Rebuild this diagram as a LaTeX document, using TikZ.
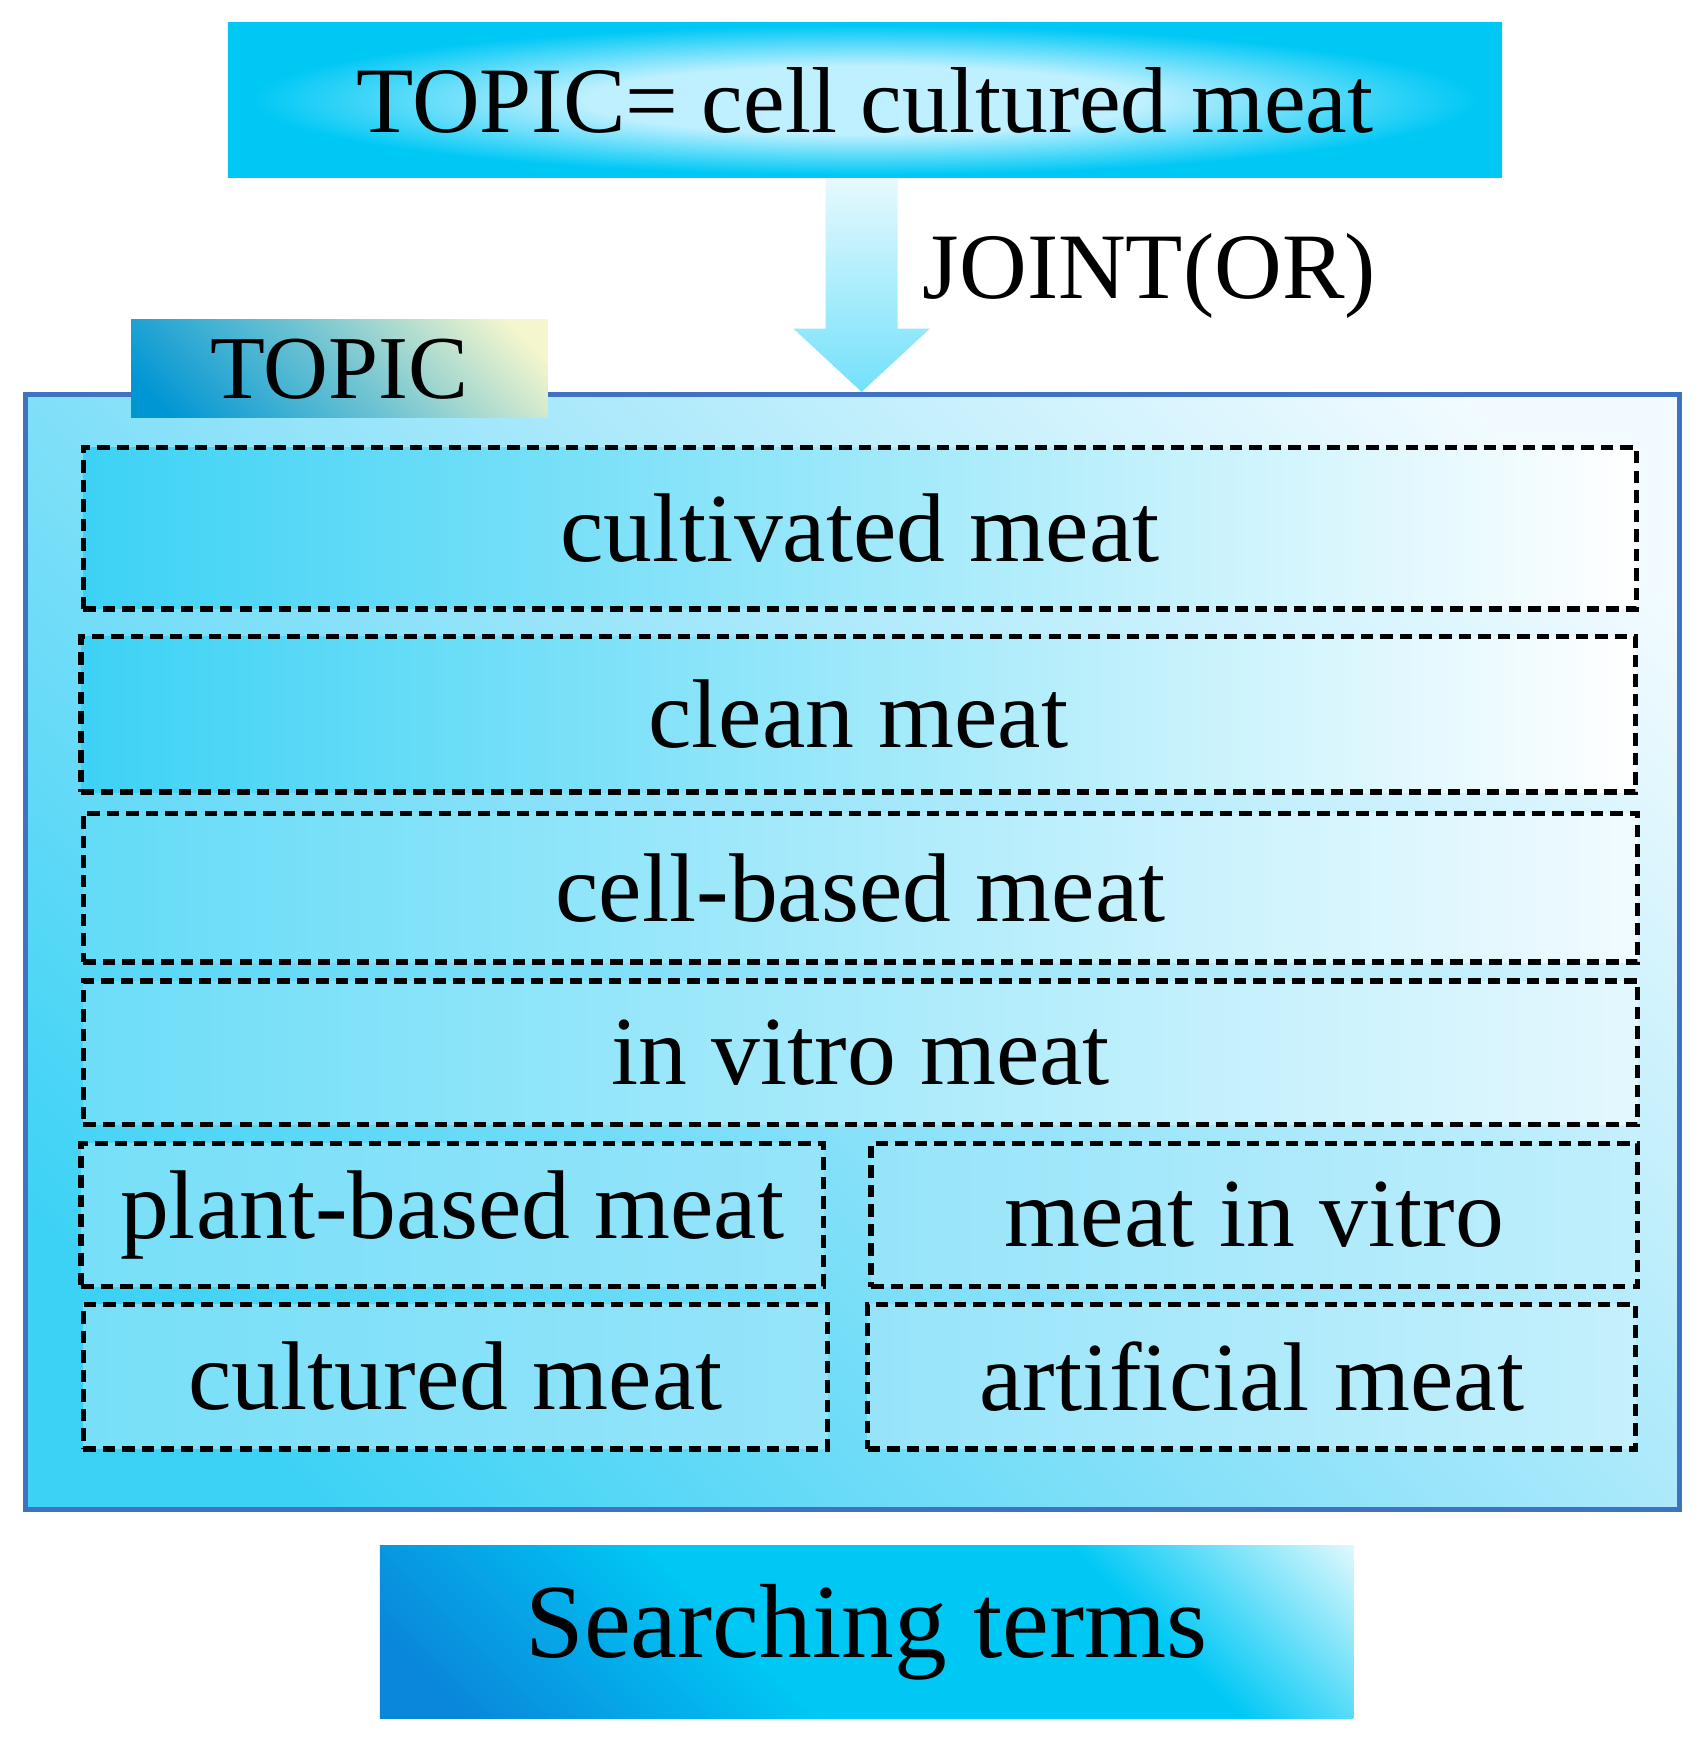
\documentclass[tikz,border=0pt]{standalone}
\usepackage{fontspec}
\setmainfont{Liberation Serif}
\usepackage{tikz}
\usetikzlibrary{calc}
\definecolor{qcyan}{RGB}{0,200,245}
\definecolor{qlight}{RGB}{190,240,255}
\definecolor{qedge}{RGB}{64,114,196}
\definecolor{qdeep}{RGB}{10,135,218}
\definecolor{fcyan}{RGB}{60,210,245}
\definecolor{fmid}{RGB}{150,228,250}
\definecolor{fwhite}{RGB}{242,251,255}
\definecolor{lblue}{RGB}{0,150,212}
\definecolor{lmid}{RGB}{110,195,210}
\definecolor{lyellow}{RGB}{245,246,205}
\pgfdeclareradialshading{glowq}{\pgfpoint{0bp}{0bp}}{color(0bp)=(qlight); color(11bp)=(qlight); color(24bp)=(qcyan); color(50bp)=(qcyan)}
\pgfdeclareverticalshading{termsfade}{100bp}{color(0bp)=(qdeep); color(20bp)=(qdeep); color(42bp)=(qcyan); color(68bp)=(qcyan); color(88bp)=(white); color(100bp)=(white)}
\pgfdeclareverticalshading{framefade}{100bp}{color(0bp)=(fcyan); color(22bp)=(fcyan); color(50bp)=(fmid); color(80bp)=(fwhite); color(100bp)=(fwhite)}
\pgfdeclareverticalshading{labelfade}{100bp}{color(0bp)=(lblue); color(20bp)=(lblue); color(50bp)=(lmid); color(80bp)=(lyellow); color(100bp)=(lyellow)}

\begin{document}
\begin{tikzpicture}[termq/.style = {draw, dash pattern = on 3.2pt off 1.8pt, line width = 1.4pt, inner sep = 0pt, font = \fontsize{25}{30}\selectfont}]
   \useasboundingbox (0,0) rectangle (15.32,-15.67);
   \node[draw = qedge, line width = 1.3pt, shade, shading = framefade, shading angle = -45, minimum width = 14.89cm, minimum height = 10.04cm] (frame) at (7.675,-8.57) {};
   \node[shade, shading = labelfade, shading angle = -45, minimum width = 3.75cm, minimum height = 0.88cm, inner sep = 0pt, font = \fontsize{23}{28}\selectfont] (tlabel) at (3.055,-3.32) {TOPIC};
   \node[termq, left color = fcyan, right color = white, minimum width = 13.98cm, minimum height = 1.45cm] (cultivated) at (7.74,-4.755) {cultivated meat};
   \node[termq, left color = fcyan, right color = white, minimum width = 13.99cm, minimum height = 1.40cm] (clean) at (7.725,-6.43) {clean meat};
   \node[termq, left color = fcyan!80!white, right color = fwhite, minimum width = 13.99cm, minimum height = 1.34cm] (cellbased) at (7.745,-7.99) {cell-based meat};
   \node[termq, left color = fcyan!75!white, right color = fwhite!85!fmid, minimum width = 13.99cm, minimum height = 1.29cm] (invitro) at (7.745,-9.475) {in vitro meat};
   \node[termq, left color = fcyan!70!white, right color = fmid, minimum width = 6.68cm, minimum height = 1.29cm] (plantbased) at (4.07,-10.935) {plant-based meat};
   \node[termq, left color = fmid, right color = fmid!60!white, minimum width = 6.90cm, minimum height = 1.29cm] (meatinvitro) at (11.29,-10.935) {meat in vitro};
   \node[termq, left color = fcyan!70!white, right color = fmid, minimum width = 6.70cm, minimum height = 1.30cm] (cultured) at (4.10,-12.39) {cultured meat};
   \node[termq, left color = fmid, right color = fmid!55!white, minimum width = 6.91cm, minimum height = 1.30cm] (artificial) at (11.265,-12.39) {artificial meat};
   \node[shade, shading = glowq, minimum width = 11.47cm, minimum height = 1.40cm, inner sep = 0pt, font = \fontsize{24}{29}\selectfont] (topq) at (7.785,-0.90) {TOPIC= cell cultured meat};
   \coordinate (tip) at ($(topq.south |- frame.north)+(-0.03,0)$);
   \shade[top color = white!90!qcyan, bottom color = qcyan!55!white] ($(topq.south)+(-0.355,0)$) -- ($(tip)+(-0.325,0.57)$) -- ($(tip)+(-0.615,0.57)$) -- (tip) -- ($(tip)+(0.615,0.57)$) -- ($(tip)+(0.325,0.57)$) -- ($(topq.south)+(0.295,0)$) -- cycle;
   \node[anchor = base west, inner sep = 0pt, font = \fontsize{24}{29}\selectfont] (joint) at (8.30,-2.69) {JOINT(OR)};
   \node[shade, shading = termsfade, shading angle = -45, minimum width = 8.76cm, minimum height = 1.56cm, inner sep = 0pt, font = \fontsize{27}{32}\selectfont] (sterms) at (7.80,-14.69) {Searching terms};
\end{tikzpicture}
\end{document}
